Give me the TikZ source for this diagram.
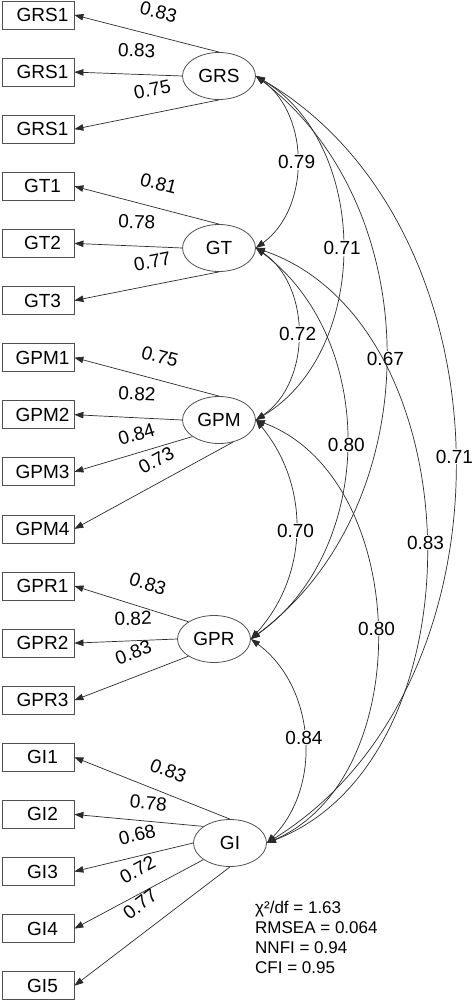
\documentclass[tikz,border=0pt]{standalone}
\usepackage{fontspec}
\setmainfont{Liberation Sans}
\usetikzlibrary{shapes.geometric, arrows.meta, positioning}
\definecolor{ink}{HTML}{2B2B2B}
\definecolor{frame}{HTML}{505050}

\begin{document}
\begin{tikzpicture}[
  x=1pt, y=1pt,
  node distance=28.3pt,
  font=\fontsize{19}{22}\selectfont,
  ind/.style={rectangle, draw=frame, line width=0.8pt, minimum width=72pt,
              minimum height=28pt, inner sep=2pt,
              execute at begin node=\hspace*{9pt}},
  lat/.style={ellipse, draw=frame, line width=0.8pt, minimum width=73pt,
              minimum height=47pt, inner sep=0pt},
  load/.style={{Triangle[length=9pt,width=6.5pt]}-, draw=ink, line width=0.7pt},
  cov/.style={{Triangle[length=9pt,width=6.5pt]}-{Triangle[length=9pt,width=6.5pt]},
              draw=ink, line width=0.7pt},
  lw/.style 2 args={pos=#1, sloped, above=#2, inner sep=1pt},
  cw/.style={midway, fill=white, inner sep=1pt},
]
\useasboundingbox (0,0) rectangle (474,-1003);

% indicators
\node[ind] (grsA) at (38,-15) {GRS1};
\node[ind, below=of grsA] (grsB) {GRS1};
\node[ind, below=of grsB] (grsC) {GRS1};
\node[ind, below=of grsC] (gt1) {GT1};
\node[ind, below=of gt1] (gt2) {GT2};
\node[ind, below=of gt2] (gt3) {GT3};
\node[ind, below=of gt3] (gpm1) {GPM1};
\node[ind, below=of gpm1] (gpm2) {GPM2};
\node[ind, below=of gpm2] (gpm3) {GPM3};
\node[ind, below=of gpm3] (gpm4) {GPM4};
\node[ind, below=of gpm4] (gpr1) {GPR1};
\node[ind, below=of gpr1] (gpr2) {GPR2};
\node[ind, below=of gpr2] (gpr3) {GPR3};
\node[ind, below=of gpr3] (gi1) {GI1};
\node[ind, below=of gi1] (gi2) {GI2};
\node[ind, below=of gi2] (gi3) {GI3};
\node[ind, below=of gi3] (gi4) {GI4};
\node[ind, below=of gi4] (gi5) {GI5};

% latent factors
\node[lat] (grs) at (219,-76) {GRS};
\node[lat] (gt)  at (219,-248) {GT};
\node[lat] (gpm) at (219,-420) {GPM};
\node[lat] (gpr) at (214,-639) {GPR};
\node[lat] (gi)  at (230,-843) {GI};

% loadings
\draw[load] (grsA.east) -- (grs.north) node[lw={.54}{16pt}] {0.83};
\draw[load] (grsB.east) -- (grs.west)  node[lw={.57}{16pt}] {0.83};
\draw[load] (grsC.east) -- (grs.south) node[lw={.57}{15pt}] {0.75};

\draw[load] (gt1.east) -- (gt.north) node[lw={.54}{16pt}] {0.81};
\draw[load] (gt2.east) -- (gt.west)  node[lw={.57}{16pt}] {0.78};
\draw[load] (gt3.east) -- (gt.south) node[lw={.57}{15pt}] {0.77};

\draw[load] (gpm1.east) -- (gpm.north) node[lw={.55}{15pt}] {0.75};
\draw[load] (gpm2.east) -- (gpm.west)  node[lw={.57}{16pt}] {0.82};
\draw[load] (gpm3.east) -- (gpm.212)   node[lw={.57}{10pt}] {0.84};
\draw[load] (gpm4.east) -- (gpm.302)   node[lw={.58}{13pt}] {0.73};

\draw[load] (gpr1.east) -- (gpr.146)  node[lw={.58}{16pt}] {0.83};
\draw[load] (gpr2.east) -- (gpr.west) node[lw={.58}{14pt}] {0.82};
\draw[load] (gpr3.east) -- (gpr.214)  node[lw={.59}{15pt}] {0.83};

\draw[load] (gi1.east) -- (gi.north) node[lw={.55}{14pt}] {0.83};
\draw[load] (gi2.east) -- (gi.148)   node[lw={.56}{10pt}] {0.78};
\draw[load] (gi3.east) -- (gi.west)  node[lw={.57}{13pt}] {0.68};
\draw[load] (gi4.east) -- (gi.212)   node[lw={.57}{14pt}] {0.72};
\draw[load] (gi5.east) -- (gi.south) node[lw={.52}{17pt}] {0.77};

% correlations
\draw[cov] (grs.east) to[bend left=54] node[cw] {0.79} (gt.east);
\draw[cov] (grs.east) to[bend left=59] node[cw] {0.71} (gpm.east);
\draw[cov] (grs.east) to[bend left=53] node[cw] {0.67} (gpr.east);
\draw[cov] (grs.east) to[bend left=59] node[cw] {0.71} (gi.east);
\draw[cov] (gt.east)  to[bend left=56] node[cw] {0.72} (gpm.east);
\draw[cov] (gt.east)  to[bend left=54] node[cw] {0.80} (gpr.east);
\draw[cov] (gt.east)  to[bend left=70] node[cw] {0.83} (gi.east);
\draw[cov] (gpm.east) to[bend left=41] node[cw] {0.70} (gpr.east);
\draw[cov] (gpm.east) to[bend left=68] node[cw] {0.80} (gi.east);
\draw[cov] (gpr.east) to[bend left=49] node[cw] {0.84} (gi.east);

\node[anchor=west, align=left, inner sep=0pt,
      font=\fontsize{17}{20}\selectfont] (fitidx) at (255,-937)
  {χ²/df = 1.63\\RMSEA = 0.064\\NNFI = 0.94\\CFI = 0.95};
\end{tikzpicture}
\end{document}
